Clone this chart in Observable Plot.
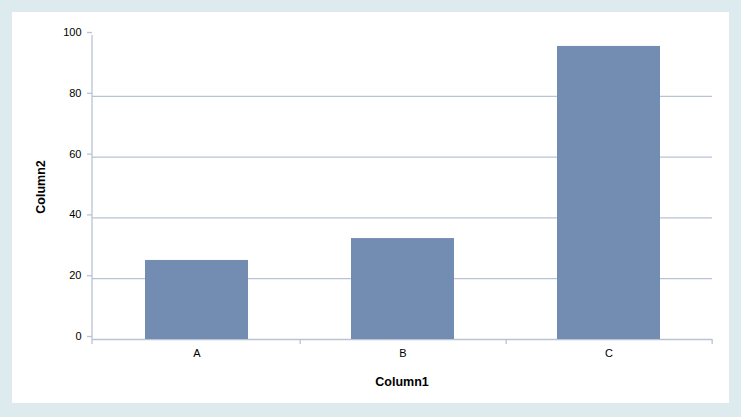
<!DOCTYPE html>
<html>
<head>
<meta charset="utf-8">
<script src="https://cdn.jsdelivr.net/npm/d3@7"></script>
<script src="https://cdn.jsdelivr.net/npm/@observablehq/plot@0.6"></script>
<style>
  html, body { margin: 0; padding: 0; background: #ddebef; width: 741px; height: 417px; overflow: hidden; }
  #panel { position: absolute; left: 12px; top: 12px; width: 717px; height: 391px; background: #ffffff; }
  svg { font-family: "Liberation Sans", Arial, sans-serif; }
</style>
</head>
<body>
<div id="panel"></div>
<script>
const categories = ["A", "B", "C"];
const values = [26, 33.2, 96.4];
const yTicks = [0, 20, 40, 60, 80, 100];
const gridTicks = [0, 20, 40, 60, 80];
const xTitle = "Column1";
const yTitle = "Column2";

const data = categories.map((c, i) => ({cat: c, val: values[i]}));
const W = 717, H = 391;
const mL = 80, mR = 17, mT = 23, mB = 64;
const step = (W - mL - mR) / categories.length;
const gridColor = "#b8c3d6";

const chart = Plot.plot({
  width: W,
  height: H,
  marginLeft: mL,
  marginRight: mR,
  marginTop: mT,
  marginBottom: mB,
  style: {background: "transparent", fontFamily: "'Liberation Sans', Arial, sans-serif", fontSize: "11px", color: "#000"},
  x: {domain: categories, paddingInner: 0.5, paddingOuter: 0.25, label: null},
  y: {domain: [0, 100], label: null},
  marks: [
    Plot.ruleY(gridTicks, {y: d => d, stroke: gridColor, strokeWidth: 1.3}),
    Plot.barY(data, {x: "cat", y: "val", fill: "#738cb2"}),
    Plot.axisY({ticks: yTicks, tickSize: 5, tickPadding: 6, stroke: gridColor, strokeWidth: 1.3, fill: "#000", fontSize: 11, dy: -3, label: null}),
    Plot.axisX({tickSize: 0, tickPadding: 10, fill: "#000", fontSize: 11, label: null})
  ]
});
document.getElementById("panel").appendChild(chart);

const svg = d3.select(chart);
const xs = chart.scale("x"), ys = chart.scale("y");
const y0 = ys.apply(0), y100 = ys.apply(100);
const xLeft = mL, xRight = W - mR;
svg.append("line").attr("x1", xLeft).attr("x2", xLeft).attr("y1", y100).attr("y2", y0 + 5)
  .attr("stroke", gridColor).attr("stroke-width", 1.3);
categories.forEach(c => {
  const xb = xs.apply(c) - xs.bandwidth / 2 + step;
  svg.append("line").attr("x1", xb).attr("x2", xb).attr("y1", y0).attr("y2", y0 + 5)
    .attr("stroke", gridColor).attr("stroke-width", 1.3);
});
svg.append("text").attr("x", (xLeft + xRight) / 2).attr("y", 374)
  .attr("text-anchor", "middle").attr("font-weight", "bold").attr("font-size", 12.5).attr("fill", "#000").text(xTitle);
svg.append("text").attr("transform", `translate(33,${(y0 + y100) / 2}) rotate(-90)`)
  .attr("text-anchor", "middle").attr("font-weight", "bold").attr("font-size", 12.5).attr("fill", "#000").text(yTitle);
</script>
</body>
</html>
